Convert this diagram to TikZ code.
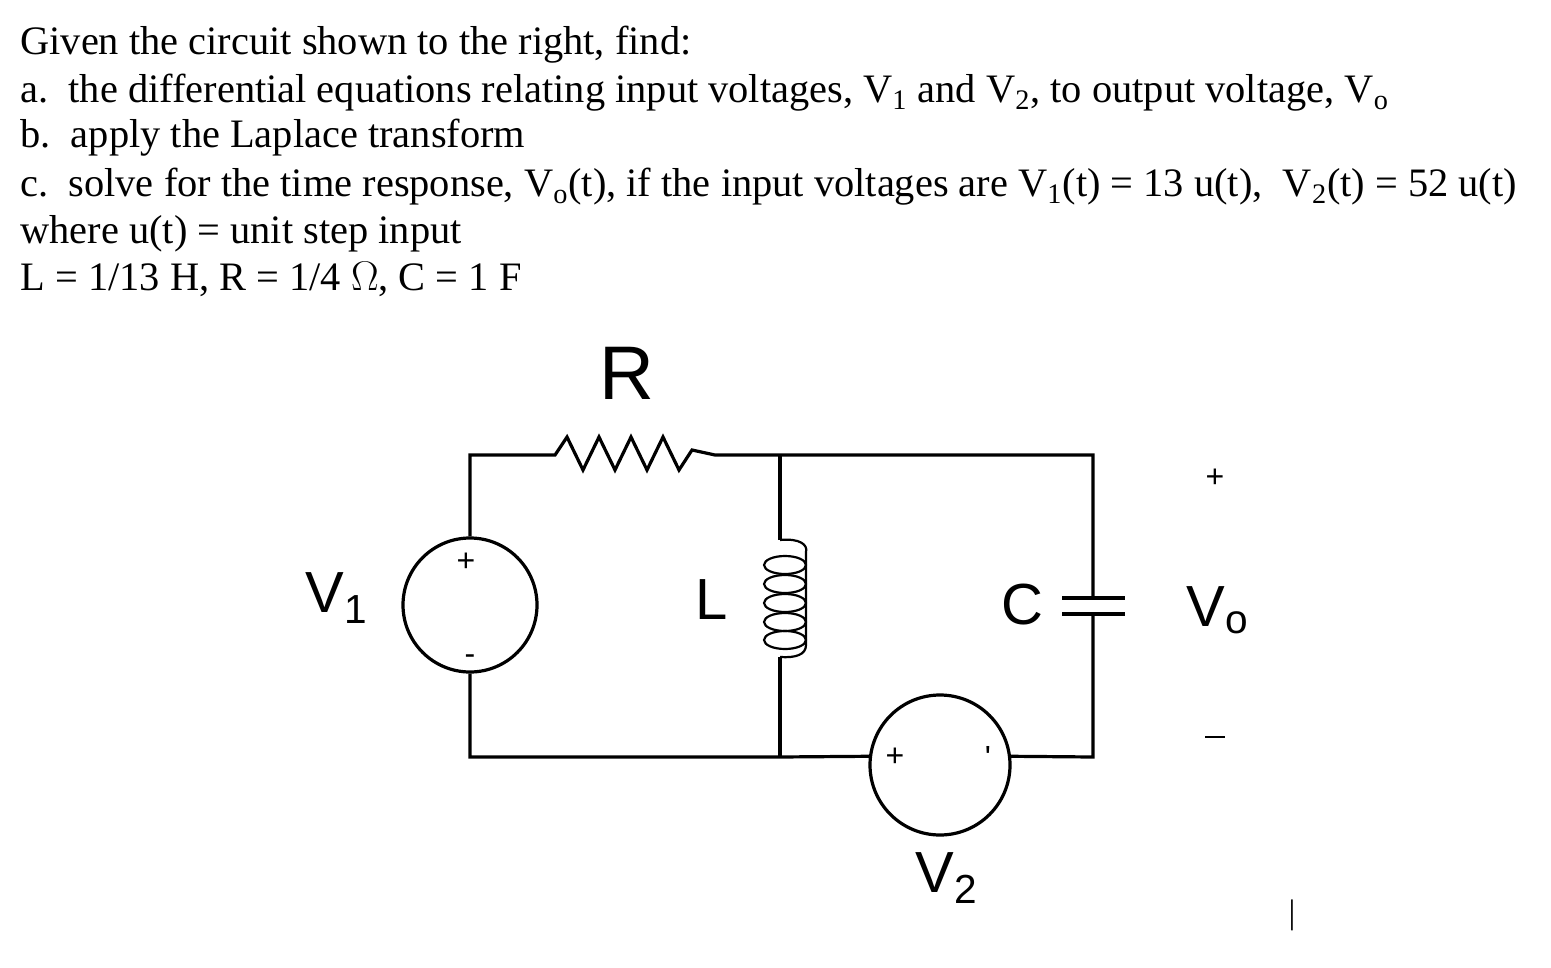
\documentclass[tikz,border=0pt]{standalone}
\usepackage{fontspec}
\setmainfont{Liberation Serif}
\newfontfamily\arial{Liberation Sans}
\begin{document}
\begin{tikzpicture}[x=0.5pt,y=-0.5pt,
  txt/.style={anchor=base west,inner sep=0,font=\fontsize{20.2}{22}\selectfont},
  lbl/.style={inner sep=0,font=\arial\fontsize{29}{30}\selectfont},
  sgn/.style={inner sep=0,font=\arial\fontsize{16}{18}\selectfont},
  w/.style={line width=1.6pt}]
\useasboundingbox (0,0) rectangle (1551,968);
\node[txt] (t1) at (20,55) {Given the circuit shown to the right, find:};
\node[txt] (t2) at (20,103) {a.\ \ the differential equations relating input voltages, V\textsubscript{1} and V\textsubscript{2}, to output voltage, V\textsubscript{o}};
\node[txt] (t3) at (20,148) {b.\ \ apply the Laplace transform};
\node[txt] (t4) at (20,197) {c.\ \ solve for the time response, V\textsubscript{o}(t), if the input voltages are V\textsubscript{1}(t) = 13 u(t),\ \ V\textsubscript{2}(t) = 52 u(t)};
\node[txt] (t5) at (20,243) {where u(t) = unit step input};
\node[txt] (t6) at (20,290) {L = 1/13 H, R = 1/4 $\Omega$, C = 1 F};
% circuit
\node[draw,w,circle,inner sep=0,minimum size=67pt] (V1) at (470,605) {};
\node[draw,w,circle,inner sep=0,minimum size=70pt] (V2) at (940,765) {};
\coordinate (tl) at (470,455);
\coordinate (bl) at (470,757);
\coordinate (rs) at (555,455);
\coordinate (re) at (715,455);
\coordinate (lt) at (780,455);
\coordinate (lb) at (780,757);
\coordinate (tr) at (1093,455);
\coordinate (br) at (1093,757);
\coordinate (c1) at (1093,598);
\coordinate (c2) at (1093,614);
\draw[w] (V1) -- (tl) -- (rs) -- (567,437) -- (583,470) -- (599,437) -- (615,470) -- (631,437) -- (647,470) -- (663,437) -- (679,470) -- (692,450) -- (re) -- (lt) -- (tr) -- (c1);
\draw[w] (V1) -- (bl) -- (lb) -- (V2.173);
\draw[w] (V2.7) -- (br) -- (c2);
\draw[w] (1062,598) -- (1125,598) (1062,614) -- (1125,614);
% inductor
\draw[w] (lt) -- (780,540) (780,657) -- (lb);
\draw[line width=1.1pt] (780,540) .. controls (800,538) and (808,545) .. (806,552);
\foreach \y in {565,584,603,622,640}{
  \draw[line width=1.1pt] (785,\y) ellipse (21 and 9);}
\draw[line width=1.1pt] (806,552) -- (806,645) .. controls (806,655) and (795,658) .. (780,657);
% labels
\node[inner sep=0,font=\arial\fontsize{38}{40}\selectfont] (R) at (627,373) {R};
\node[lbl] (lv1) at (337,598) {V\textsubscript{1}};
\node[lbl] (lL) at (712,600) {L};
\node[lbl] (lC) at (1022,605) {C};
\node[lbl] (lVo) at (1218,610) {V\textsubscript{o}};
\node[lbl] (lV2) at (947,878) {V\textsubscript{2}};
\node[sgn] (p1) at (466,562) {+};
\node[sgn] (m1) at (470,660) {-};
\node[sgn] (p2) at (895,757) {+};
\node[sgn] (m2) at (988,757) {\textquotesingle};
\node[sgn] (po) at (1215,478) {+};
\node[sgn] (mo) at (1215,737) {\rule{10pt}{0.9pt}};
\node[inner sep=0,font=\fontsize{17}{18}\selectfont] (cur) at (1292,915) {|};
\end{tikzpicture}
\end{document}
